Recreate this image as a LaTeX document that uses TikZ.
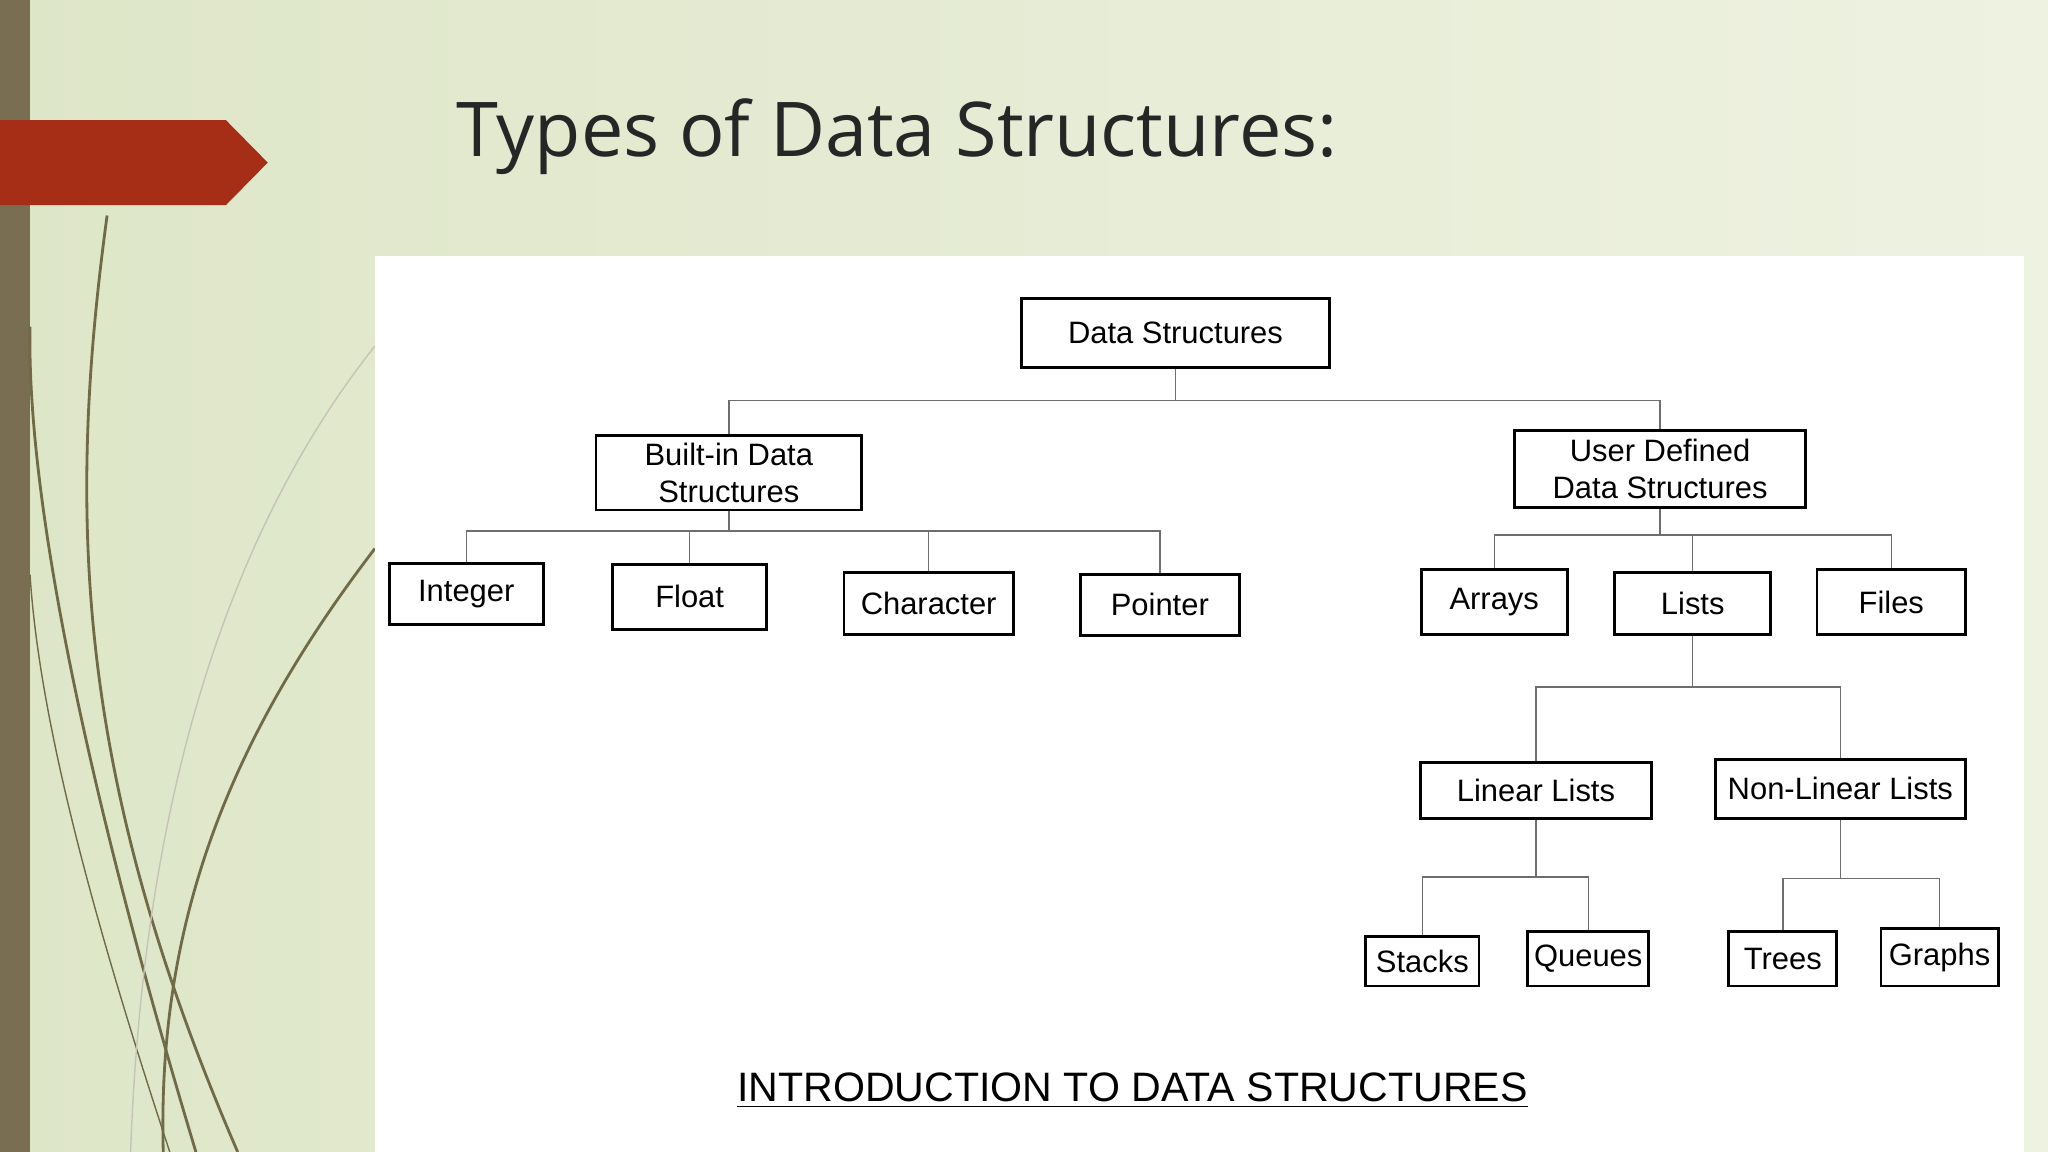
\documentclass[tikz,border=0pt]{standalone}
\usepackage{fontspec}
\setmainfont{Liberation Sans}
\newfontfamily\titlefont{Open Sans}
\usetikzlibrary{positioning}
\definecolor{bgleft}{RGB}{222,230,200}
\definecolor{bgright}{RGB}{238,242,225}
\definecolor{barcolor}{RGB}{122,110,82}
\definecolor{arrowred}{RGB}{166,45,22}
\definecolor{swirl}{RGB}{112,106,70}
\definecolor{linkgray}{RGB}{110,110,110}
\newcommand\pxlen[1]{#1*0.3705pt}

\begin{document}
\begin{tikzpicture}[
    x=0.013061cm, y=-0.013061cm,
    box/.style={rectangle, draw, thick, font=\fontsize{8.8pt}{10.5pt}\selectfont, align=center, inner sep=0pt},
    link/.style={draw=linkgray, thin}
]

% Background
\useasboundingbox (0,0) rectangle (1568,882);
\shade[left color=bgleft, right color=bgright] (0,0) rectangle (1568,882);
\fill[barcolor] (0,0) rectangle (23,882);
\fill[arrowred] (0,92) -- (173,92) -- (205,124.5) -- (173,157) -- (0,157) -- cycle;

% Swirl lines
\draw[swirl, thick] (182,882) .. controls (60,600) and (50,400) .. (82,165);
\draw[swirl, thick] (150,882) .. controls (80,650) and (20,400) .. (23,250);
\draw[swirl, thin] (130,882) .. controls (70,700) and (30,550) .. (23,440);
\draw[swirl, thick] (125,882) .. controls (120,700) and (180,560) .. (287,420);
\draw[swirl!40, thin] (100,882) .. controls (110,600) and (180,400) .. (287,265);

% White panel
\fill[white] (287,196) rectangle (1550,882);

% Title
\node[font=\titlefont\fontsize{21.5pt}{26pt}\selectfont, anchor=west, text=black!85] (title) at (340,105) {Types of Data Structures:};

% Boxes
\node[box, minimum width=\pxlen{236}, minimum height=\pxlen{53}] (ds) at (900,255) {Data Structures};
\node[box, minimum width=\pxlen{204}, minimum height=\pxlen{57}] (builtin) at (558,362) {Built-in Data\\Structures};
\node[box, minimum width=\pxlen{223}, minimum height=\pxlen{59}] (user) at (1271,359) {User Defined\\Data Structures};
\node[box, minimum width=\pxlen{118}, minimum height=\pxlen{47}] (integer) at (357,455) {Integer};
\node[box, minimum width=\pxlen{118}, minimum height=\pxlen{50}] (float) at (528,457) {Float};
\node[box, minimum width=\pxlen{130}, minimum height=\pxlen{48}] (character) at (711,462) {Character};
\node[box, minimum width=\pxlen{122}, minimum height=\pxlen{47}] (pointer) at (888,463) {Pointer};
\node[box, minimum width=\pxlen{112}, minimum height=\pxlen{50}] (arrays) at (1144,461) {Arrays};
\node[box, minimum width=\pxlen{120}, minimum height=\pxlen{48}] (lists) at (1296,462) {Lists};
\node[box, minimum width=\pxlen{114}, minimum height=\pxlen{50}] (files) at (1448,461) {Files};
\node[box, minimum width=\pxlen{177}, minimum height=\pxlen{43}] (linear) at (1176,605) {Linear Lists};
\node[box, minimum width=\pxlen{192}, minimum height=\pxlen{45}] (nonlinear) at (1409,604) {Non-Linear Lists};
\node[box, minimum width=\pxlen{87}, minimum height=\pxlen{38}] (stacks) at (1089,736) {Stacks};
\node[box, minimum width=\pxlen{93}, minimum height=\pxlen{42}] (queues) at (1216,734) {Queues};
\node[box, minimum width=\pxlen{83}, minimum height=\pxlen{42}] (trees) at (1365,734) {Trees};
\node[box, minimum width=\pxlen{90}, minimum height=\pxlen{44}] (graphs) at (1485,733) {Graphs};

% Connectors
\foreach \c in {builtin, user}
    \draw[link] (ds.south) -- ++(0,24) -| (\c.north);
\foreach \c in {integer, float, character, pointer}
    \draw[link] (builtin.south) -- ++(0,15) -| (\c.north);
\foreach \c in {arrays, lists, files}
    \draw[link] (user.south) -- ++(0,20) -| (\c.north);
\foreach \c in {linear, nonlinear}
    \draw[link] (lists.south) -- ++(0,39) -| (\c.north);
\foreach \c in {stacks, queues}
    \draw[link] (linear.south) -- ++(0,44) -| (\c.north);
\foreach \c in {trees, graphs}
    \draw[link] (nonlinear.south) -- ++(0,45) -| (\c.north);

% Caption
\node[font=\fontsize{11.7pt}{14pt}\selectfont] (caption) at (867,835) {\underline{INTRODUCTION TO DATA STRUCTURES}};

\end{tikzpicture}
\end{document}
